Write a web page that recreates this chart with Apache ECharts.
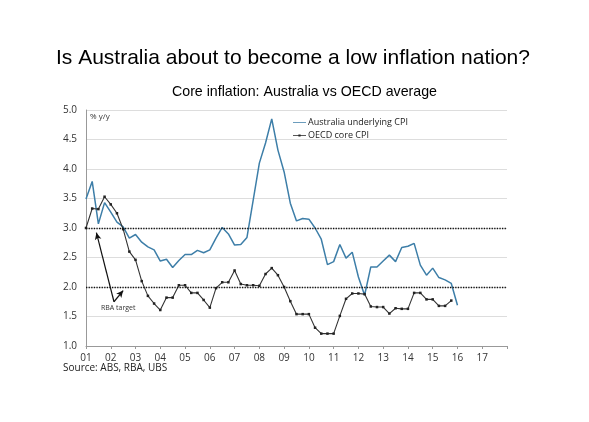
<!DOCTYPE html>
<html>
<head>
    <meta charset="UTF-8">
    <title>Core inflation: Australia vs OECD average</title>
    <script src="https://cdn.jsdelivr.net/npm/echarts@6/dist/echarts.min.js"></script>
    <style>
        html, body { margin: 0; padding: 0; background: #fff; }
        #chart { width: 589px; height: 422px; }
    </style>
</head>
<body>
<div id="chart"></div>
<script>
    // quarterly readings, first point is Q1 2001
    var startYear = 2001;
    var ausCPI = [
        3.49, 3.79, 3.07, 3.43,
        3.27, 3.10, 3.02, 2.83,
        2.89, 2.76, 2.68, 2.63,
        2.44, 2.47, 2.33, 2.45,
        2.55, 2.55, 2.62, 2.58,
        2.63, 2.83, 3.01, 2.90,
        2.71, 2.72, 2.84, 3.47,
        4.10, 4.44, 4.85, 4.32,
        3.95, 3.42, 3.12, 3.16,
        3.15, 3.00, 2.81, 2.38,
        2.43, 2.72, 2.49, 2.59,
        2.17, 1.86, 2.34, 2.34,
        2.44, 2.54, 2.43, 2.67,
        2.69, 2.74, 2.37, 2.20,
        2.32, 2.16, 2.12, 2.06,
        1.69
    ];
    var oecdCPI = [
        3.00, 3.33, 3.32, 3.53,
        3.40, 3.25, 2.98, 2.60,
        2.46, 2.10, 1.85, 1.72,
        1.61, 1.82, 1.82, 2.03,
        2.03, 1.90, 1.90, 1.78,
        1.65, 1.98, 2.08, 2.08,
        2.28, 2.05, 2.03, 2.03,
        2.02, 2.22, 2.32, 2.20,
        2.00, 1.76, 1.54, 1.54,
        1.54, 1.31, 1.21, 1.21,
        1.21, 1.51, 1.80, 1.89,
        1.89, 1.88, 1.67, 1.66,
        1.66, 1.55, 1.64, 1.63,
        1.63, 1.90, 1.90, 1.79,
        1.79, 1.68, 1.68, 1.77
    ];
    var targetBand = [2.0, 3.0];
    // RBA target arrow: tip, elbow, tip (year, % y/y)
    var rbaArrow = [[2001.42, 2.92], [2002.13, 1.75], [2002.5, 1.94]];
    var rbaLabelAt = [2002.3, 1.64];

    function toPoints(values) {
        return values.map(function (v, i) { return [startYear + i / 4, v]; });
    }

    var chartFont = '"Open Sans", "DejaVu Sans", sans-serif';
    var titleFont = '"Liberation Sans", Arial, sans-serif';
    // legend glyphs: plain line, and line with a small square in the middle
    var lineIcon = 'path://M0,1.6h14v0.9H0z M0,0h0.01v4H0z';
    var dotLineIcon = 'path://M0,1.6h14v0.9H0z M5.8,0.8h2.4v2.4H5.8z M0,0h0.01v4H0z';

    var chart = echarts.init(document.getElementById('chart'), null, {renderer: 'canvas'});

    chart.setOption({
        backgroundColor: '#fff',
        animation: false,
        title: [{
            text: 'Is Australia about to become a low inflation nation?',
            left: 51, top: 43,
            textStyle: {fontFamily: titleFont, fontSize: 21, fontWeight: 'normal', color: '#000'}
        }, {
            text: 'Core inflation: Australia vs OECD average',
            left: 167, top: 80,
            textStyle: {fontFamily: titleFont, fontSize: 14.2, fontWeight: 'normal', color: '#000'}
        }],
        legend: {
            orient: 'vertical',
            left: 288, top: 113,
            itemWidth: 13, itemHeight: 4, itemGap: 4,
            textStyle: {fontFamily: chartFont, fontSize: 9, color: '#222', padding: [0, 0, 0, -3]},
            data: [
                {name: 'Australia underlying CPI', icon: lineIcon},
                {name: 'OECD core CPI', icon: dotLineIcon}
            ]
        },
        grid: {left: 86, right: 82, top: 110, bottom: 76, containLabel: false, outerBoundsMode: 'none'},
        xAxis: {
            type: 'value',
            min: 2001, max: 2018, interval: 1,
            axisLine: {lineStyle: {color: '#999'}},
            axisTick: {show: true, length: 3, lineStyle: {color: '#999'}},
            splitLine: {show: false},
            axisLabel: {
                fontFamily: chartFont, fontSize: 10, color: '#333', margin: 7,
                formatter: function (v) { return v < 2018 ? String(v).slice(2) : ''; }
            }
        },
        yAxis: {
            type: 'value',
            min: 1, max: 5, interval: 0.5,
            axisLine: {show: true, lineStyle: {color: '#999'}},
            axisTick: {show: false},
            splitLine: {lineStyle: {color: '#ddd'}},
            axisLabel: {
                fontFamily: chartFont, fontSize: 10, color: '#333', margin: 9,
                formatter: function (v) { return v.toFixed(1); }
            }
        },
        graphic: [{
            type: 'text', left: 90, top: 113,
            style: {text: '% y/y', fontFamily: chartFont, fontSize: 8, fill: '#333'}
        }, {
            type: 'text', left: 63, top: 363,
            style: {text: 'Source: ABS, RBA, UBS', fontFamily: chartFont, fontSize: 10, fill: '#222'}
        }],
        series: [{
            name: 'Australia underlying CPI',
            type: 'line',
            data: toPoints(ausCPI),
            symbol: 'none',
            lineStyle: {color: '#3d7ea8', width: 1.5},
            itemStyle: {color: '#3d7ea8'},
            z: 3
        }, {
            name: 'OECD core CPI',
            type: 'line',
            data: toPoints(oecdCPI),
            symbol: 'rect',
            symbolSize: 2.5,
            lineStyle: {color: '#333', width: 1.1},
            itemStyle: {color: '#222'},
            z: 4,
            markLine: {
                silent: true,
                symbol: 'none',
                label: {show: false},
                lineStyle: {color: '#111', type: 'dotted', width: 1.3},
                data: targetBand.map(function (v) { return {yAxis: v}; })
            }
        }, {
            name: 'RBA target',
            type: 'line',
            data: [],
            silent: true,
            markLine: {
                silent: true,
                symbol: ['none', 'arrow'],
                symbolSize: [5, 7],
                label: {show: false},
                lineStyle: {color: '#111', type: 'solid', width: 1.2},
                data: [
                    [{coord: rbaArrow[1]}, {coord: rbaArrow[0]}],
                    [{coord: rbaArrow[1]}, {coord: rbaArrow[2]}]
                ]
            },
            markPoint: {
                silent: true,
                symbol: 'circle', symbolSize: 0,
                label: {show: true, formatter: 'RBA target', fontFamily: chartFont, fontSize: 7, color: '#333'},
                data: [{coord: rbaLabelAt}]
            }
        }]
    });
</script>
</body>
</html>
